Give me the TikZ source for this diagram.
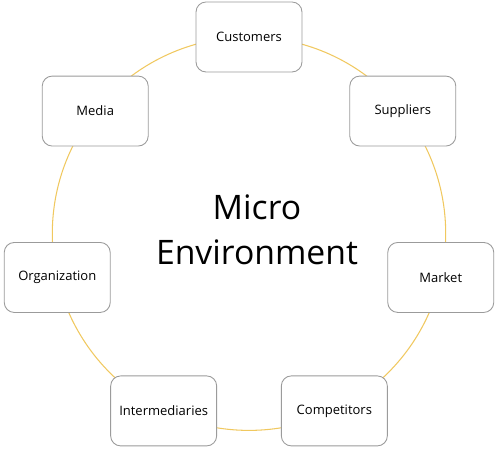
\documentclass[tikz,border=0pt]{standalone}
\usepackage{fontspec}
\setmainfont{Open Sans}
\usetikzlibrary{calc}

\definecolor{ringgold}{RGB}{240,200,95}
\definecolor{boxgray}{RGB}{155,155,155}

\tikzset{
  envbox/.style={draw=boxgray, fill=white, rounded corners=0.2cm,
    minimum width=2.12cm, minimum height=1.4cm, line width=0.5pt,
    font=\fontsize{7.4}{9}\selectfont},
  ring/.style={draw=ringgold, line width=0.6pt}
}

\begin{document}
\begin{tikzpicture}[x=0.02cm,y=0.02cm]
        \useasboundingbox (0,0) rectangle (500,452);

        % Center of the ring
        \coordinate (hub) at (249,218.3);

        % Draw the ring behind the boxes
        \draw[ring] (hub) circle (196.7);

        % Boxes around the ring
        \foreach \name/\txt [count=\i from 0] in {cust/Customers, supp/Suppliers, mark/Market, comp/Competitors, inter/Intermediaries, org/Organization, media/Media}
            \node[envbox] (\name) at ($(hub)+({90-\i*360/7}:196.7)$) {\txt};

        % Title in the middle
        \node[align=center, font=\fontsize{19.2}{25.5}\selectfont] (title) at (257,222) {Micro\\Environment};
\end{tikzpicture}
\end{document}
